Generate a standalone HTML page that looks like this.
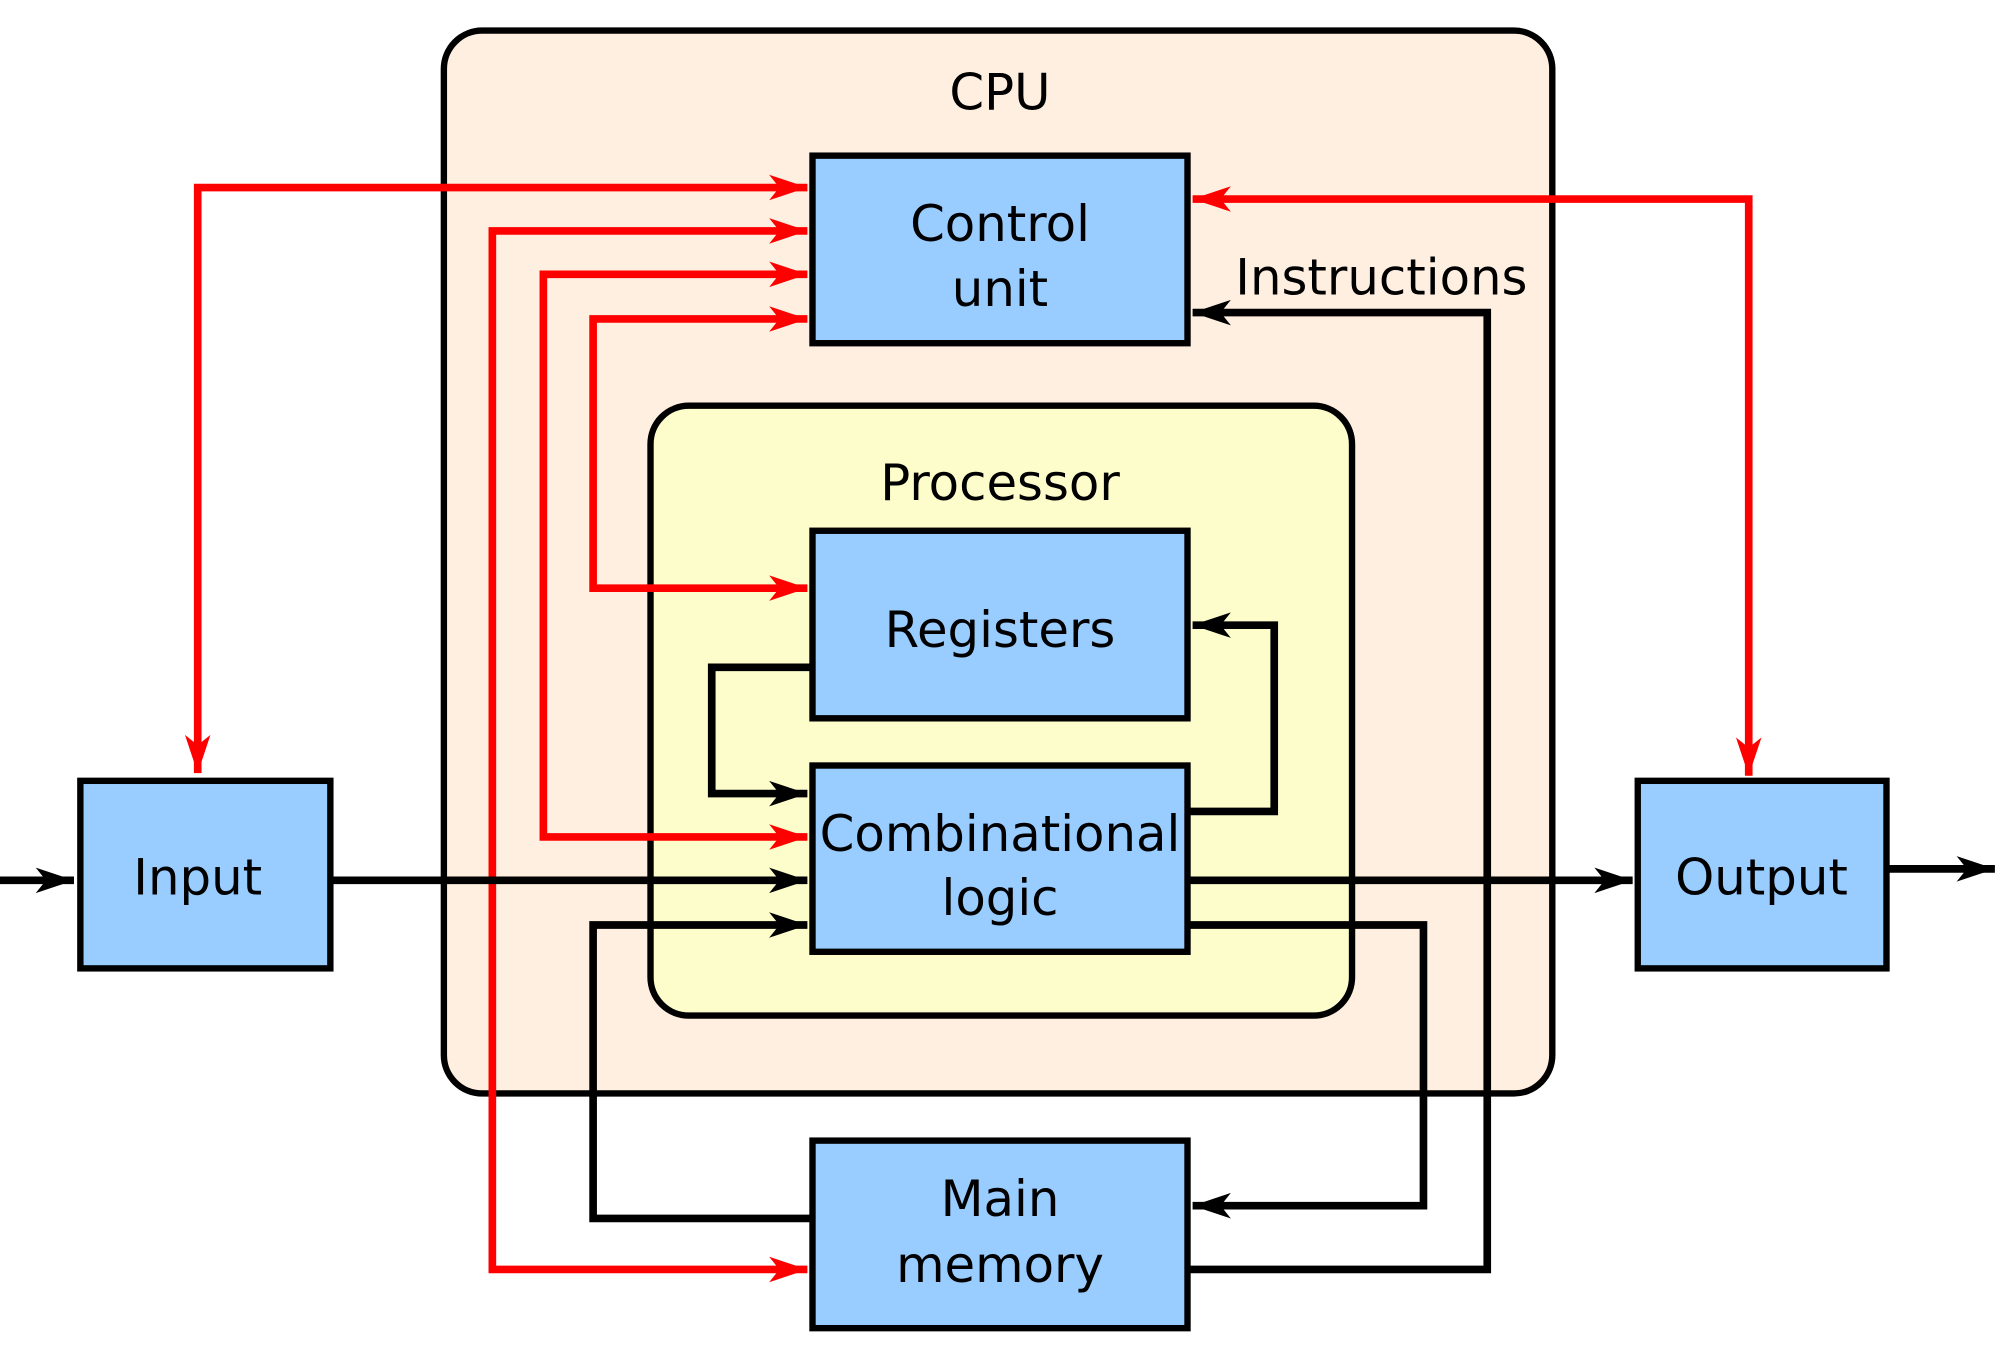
<!DOCTYPE html>
<html><head><meta charset="utf-8"><style>html,body{margin:0;padding:0;background:#fff}svg{display:block}</style></head>
<body>
<svg width="2000" height="1369" viewBox="0 0 1568 1073" preserveAspectRatio="none" xmlns="http://www.w3.org/2000/svg" font-family="DejaVu Sans, Liberation Sans, sans-serif">
<defs>
<marker id="ab" markerUnits="userSpaceOnUse" markerWidth="32" markerHeight="22" viewBox="0 0 32 22" refX="30" refY="11" orient="auto"><path d="M0,1 L30,11 L0,21 L8,11 z" fill="#000"/></marker>
<marker id="ar" markerUnits="userSpaceOnUse" markerWidth="32" markerHeight="22" viewBox="0 0 32 22" refX="30" refY="11" orient="auto"><path d="M0,1 L30,11 L0,21 L8,11 z" fill="#f00"/></marker>
<marker id="ars" markerUnits="userSpaceOnUse" markerWidth="32" markerHeight="22" viewBox="0 0 32 22" refX="30" refY="11" orient="auto-start-reverse"><path d="M0,1 L30,11 L0,21 L8,11 z" fill="#f00"/></marker>
</defs>
<rect x="348" y="24" width="869" height="833" rx="30" fill="#ffefe1" stroke="#000" stroke-width="5"/>
<rect x="510" y="318" width="550" height="478" rx="30" fill="#fdfdcb" stroke="#000" stroke-width="5"/>
<g fill="#99ccff" stroke="#000" stroke-width="5">
<rect x="637" y="122" width="294" height="147"/>
<rect x="637" y="416" width="294" height="147"/>
<rect x="637" y="600" width="294" height="146"/>
<rect x="637" y="894" width="294" height="147"/>
<rect x="63" y="612" width="196" height="147"/>
<rect x="1284" y="612" width="195" height="147"/>
</g>
<g fill="none" stroke="#f00" stroke-width="6">
<polyline points="155,606 155,147 633,147" marker-start="url(#ars)" marker-end="url(#ar)"/>
<polyline points="633,181 386,181 386,995 633,995" marker-start="url(#ars)" marker-end="url(#ar)"/>
<polyline points="633,215 426,215 426,656 633,656" marker-start="url(#ars)" marker-end="url(#ar)"/>
<polyline points="633,250 465,250 465,461 633,461" marker-start="url(#ars)" marker-end="url(#ar)"/>
<polyline points="935,156 1371,156 1371,608" marker-start="url(#ars)" marker-end="url(#ar)"/>
</g>
<g fill="none" stroke="#000" stroke-width="6">
<polyline points="0,690 58,690" marker-end="url(#ab)"/>
<polyline points="259,690 633,690" marker-end="url(#ab)"/>
<polyline points="637,523 558,523 558,622 633,622" marker-end="url(#ab)"/>
<polyline points="931,636 999,636 999,490 935,490" marker-end="url(#ab)"/>
<polyline points="931,690 1280,690" marker-end="url(#ab)"/>
<polyline points="1479,681 1564,681" marker-end="url(#ab)"/>
<polyline points="931,725 1116,725 1116,945 935,945" marker-end="url(#ab)"/>
<polyline points="637,955 465,955 465,725 633,725" marker-end="url(#ab)"/>
<polyline points="931,995 1166,995 1166,245 935,245" marker-end="url(#ab)"/>
</g>
<g font-size="39" text-anchor="middle" fill="#000">
<text x="784" y="86">CPU</text>
<text x="784" y="392">Processor</text>
<text x="1083" y="231">Instructions</text>
<text x="784" y="189">Control</text>
<text x="784" y="240">unit</text>
<text x="784" y="507">Registers</text>
<text x="784" y="667">Combinational</text>
<text x="784" y="717">logic</text>
<text x="784" y="953">Main</text>
<text x="784" y="1005">memory</text>
<text x="155" y="701">Input</text>
<text x="1381" y="701">Output</text>
</g>
</svg>
</body></html>
